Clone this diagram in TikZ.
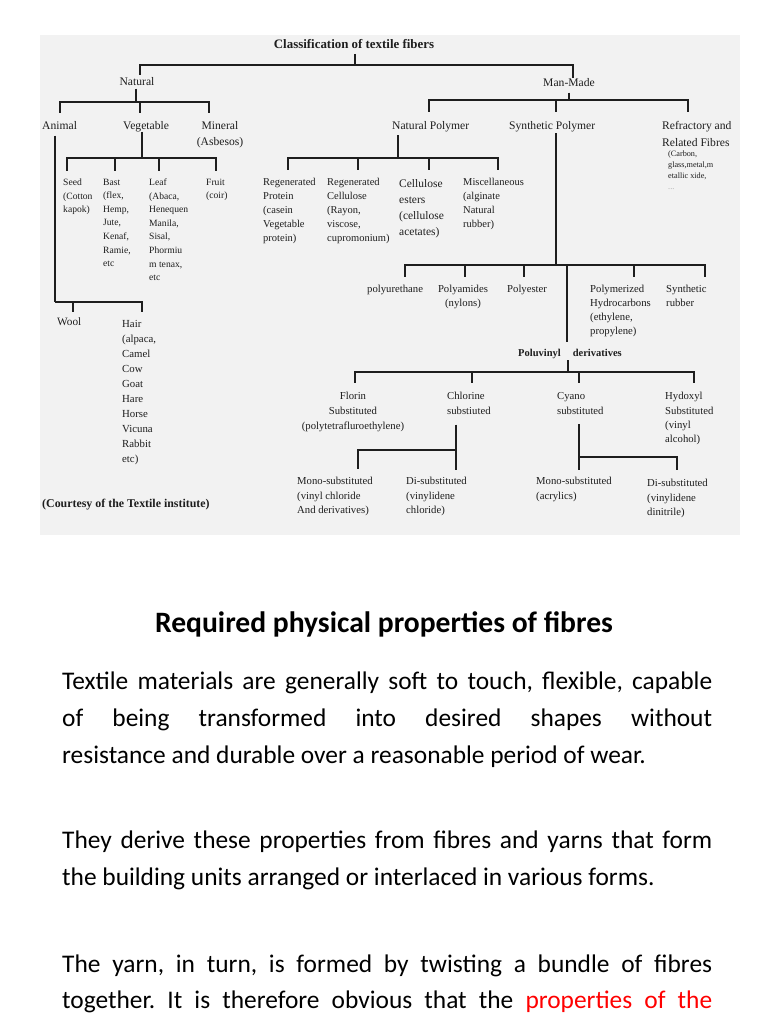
\documentclass[tikz,border=0pt]{standalone}
\usepackage{fontspec}
\setmainfont{Liberation Serif}
\newfontfamily\bodyfont{Carlito}
\newcommand\myfs[2]{\fontsize{#1}{#2}\selectfont}
\definecolor{diagbg}{RGB}{242,242,242}
\definecolor{ink}{RGB}{30,30,30}
\frenchspacing
\tikzset{
  tree/.style={draw=ink, line width=1.7pt},
  lbl/.style={inner sep=0pt, text=ink, font=\myfs{11.6}{16}},
  colnw/.style={inner sep=0pt, anchor=north west, align=left, text=ink},
  vc/.style={colnw, font=\myfs{9.6}{13.6}},
  npc/.style={colnw, font=\myfs{10.5}{14}},
  spc/.style={colnw, font=\myfs{10.7}{14}},
  pvc/.style={colnw, font=\myfs{10.7}{15}},
  msc/.style={colnw, font=\myfs{10.7}{14.5}},
  bl/.style={anchor=base west, inner sep=0pt, font=\bodyfont\myfs{25.4}{37}}
}
\begin{document}
\begin{tikzpicture}[x=1pt,y=-1pt]
\useasboundingbox (0,0) rectangle (768,1024);
\fill[white] (0,0) rectangle (768,1024);
\fill[diagbg] (40,35) rectangle (740,535);

% ---- level 0/1
\node[anchor=north, inner sep=0pt, text=ink, font=\bfseries\myfs{12.9}{15}] (title) at (354,39.5) {Classification of textile fibers};
\node[lbl, anchor=north] (natural) at (137,77) {Natural};
\node[lbl, anchor=north] (manmade) at (569,78) {Man-Made};

% ---- level 2
\node[lbl, anchor=north west] (animal) at (42,121) {Animal};
\node[lbl, anchor=north west] (vegetable) at (123,121) {Vegetable};
\node[lbl, anchor=north, align=center] (mineral) at (220,121) {Mineral\\(Asbesos)};
\node[lbl, anchor=north west] (natpoly) at (392,121) {Natural Polymer};
\node[lbl, anchor=north west] (synpoly) at (509,121) {Synthetic Polymer};
\node[lbl, anchor=north west, align=left, font=\myfs{11.6}{17}] (refrac) at (662,121) {Refractory and\\Related Fibres};
\node[colnw, font=\myfs{8.2}{11}] (refdet) at (668,151) {(Carbon,\\glass,metal,m\\etallic xide,\\\textcolor{black!35}{...}};

% ---- vegetable children
\node[vc] (seed) at (63,178.6) {Seed\\(Cotton\\kapok)};
\node[vc] (bast) at (103,178.6) {Bast\\(flex,\\Hemp,\\Jute,\\Kenaf,\\Ramie,\\etc};
\node[vc] (leaf) at (149,178.6) {Leaf\\(Abaca,\\Henequen\\Manila,\\Sisal,\\Phormiu\\m tenax,\\etc};
\node[vc] (fruit) at (206,178.6) {Fruit\\(coir)};

% ---- natural polymer children
\node[npc] (regprot) at (263,178.3) {Regenerated\\Protein\\(casein\\Vegetable\\protein)};
\node[npc] (regcell) at (327,178.3) {Regenerated\\Cellulose\\(Rayon,\\viscose,\\cupromonium)};
\node[colnw, font=\myfs{11.5}{16}] (celest) at (399,179) {Cellulose\\esters\\(cellulose\\acetates)};
\node[npc] (misc) at (463,178.3) {Miscellaneous\\(alginate\\Natural\\rubber)};

% ---- animal children
\node[lbl, anchor=north west, font=\myfs{11.25}{14}] (wool) at (57,317) {Wool};
\node[colnw, font=\myfs{10.8}{15}] (hair) at (122,320.2) {Hair\\(alpaca,\\Camel\\Cow\\Goat\\Hare\\Horse\\Vicuna\\Rabbit\\etc)};

% ---- synthetic polymer children
\node[spc] (polyur) at (367,285.3) {polyurethane};
\node[spc, anchor=north, align=center] (polyam) at (463,285.3) {Polyamides\\(nylons)};
\node[spc] (polyest) at (507,285.3) {Polyester};
\node[spc] (polymer) at (590,285.3) {Polymerized\\Hydrocarbons\\(ethylene,\\propylene)};
\node[spc] (synrub) at (666,285.3) {Synthetic\\rubber};
\node[anchor=north, inner sep=0pt, text=ink, font=\bfseries\myfs{10.5}{14}] (poluvinyl) at (570,349.3) {Poluvinyl\hspace{12pt}derivatives};

% ---- polyvinyl children
\node[pvc, anchor=north, align=center] (florin) at (353,392.3) {Florin\\Substituted\\(polytetrafluroethylene)};
\node[pvc] (chlorine) at (447,392.3) {Chlorine\\substiuted};
\node[pvc] (cyano) at (557,392.3) {Cyano\\substituted};
\node[colnw, font=\myfs{10.7}{14.3}] (hydoxyl) at (665,392.3) {Hydoxyl\\Substituted\\(vinyl\\alcohol)};

\node[msc] (mono1) at (297,477) {Mono-substituted\\(vinyl chloride\\And derivatives)};
\node[msc] (di1) at (406,477) {Di-substituted\\(vinylidene\\chloride)};
\node[msc] (mono2) at (536,477) {Mono-substituted\\(acrylics)};
\node[msc] (di2) at (647,479) {Di-substituted\\(vinylidene\\dinitrile)};

\node[anchor=west, inner sep=0pt, text=ink, font=\bfseries\myfs{11.9}{14}] (courtesy) at (42,505) {(Courtesy of the Textile institute)};

% ---- connectors
\coordinate (rb) at (355,65);
\draw[tree, shorten <=4.7pt] ([xshift=1pt]title.south) -- (rb);
\draw[tree, shorten >=2pt] (rb) -| ([xshift=3pt]natural.north);
\draw[tree] (rb) -| ([xshift=4pt]manmade.north);

\coordinate (nb) at (136,102);
\draw[tree, shorten <=3pt] ([xshift=-1pt]natural.south) -- (nb);
\draw[tree, shorten >=8pt] (nb) -| ([xshift=18pt]animal.north west);
\draw[tree, shorten >=8pt] (nb) -| ([xshift=17pt]vegetable.north west);
\draw[tree, shorten >=8pt] (nb) -| ([xshift=-11pt]mineral.north);

\coordinate (mb) at (569,100);
\draw[tree, shorten <=6pt] (manmade.south) -- (mb);
\draw[tree, shorten >=9pt] (mb) -| ([xshift=37pt]natpoly.north west);
\draw[tree, shorten >=9pt] (mb) -| ([xshift=47pt]synpoly.north west);
\draw[tree, shorten >=9pt] (mb) -| ([xshift=26pt]refrac.north west);

\coordinate (vb) at (142,158);
\draw[tree] ([xshift=19pt]vegetable.south west) -- (vb);
\draw[tree, shorten >=7.6pt] (vb) -| ([xshift=4pt]seed.north west);
\draw[tree, shorten >=7.6pt] (vb) -| ([xshift=12pt]bast.north west);
\draw[tree, shorten >=7.6pt] (vb) -| ([xshift=10pt]leaf.north west);
\draw[tree, shorten >=7.6pt] (vb) -| ([xshift=10pt]fruit.north west);

\coordinate (pb) at (398,158);
\draw[tree, shorten <=3.5pt] ([xshift=6pt]natpoly.south west) -- (pb);
\draw[tree, shorten >=8.3pt] (pb) -| ([xshift=25pt]regprot.north west);
\draw[tree, shorten >=8.3pt] (pb) -| ([xshift=31pt]regcell.north west);
\draw[tree, shorten >=9pt] (pb) -| ([xshift=30pt]celest.north west);
\draw[tree, shorten >=8.3pt] (pb) -| ([xshift=35pt]misc.north west);

\coordinate (ab) at (55,302);
\draw[tree, shorten <=6pt] ([xshift=13pt]animal.south west) -- (ab);
\draw[tree, shorten >=5pt] (ab) -| ([xshift=16pt]wool.north west);
\draw[tree, shorten >=8pt] (ab) -| ([xshift=20pt]hair.north west);

\coordinate (sb) at (556,265);
\draw[tree, shorten <=1.5pt] ([xshift=47pt]synpoly.south west) -- (sb);
\draw[tree, shorten >=8.3pt] (sb) -| ([xshift=38pt]polyur.north west);
\draw[tree, shorten >=8.3pt] (sb) -| ([xshift=2pt]polyam.north);
\draw[tree, shorten >=8.3pt] (sb) -| ([xshift=17pt]polyest.north west);
\draw[tree, shorten >=8.3pt] (sb) -| ([xshift=44pt]polymer.north west);
\draw[tree, shorten >=8.3pt] (sb) -| ([xshift=39pt]synrub.north west);
\draw[tree, shorten >=7pt] (sb) -| ([xshift=-3pt]poluvinyl.north);

\coordinate (qb) at (568,372);
\draw[tree, shorten <=1pt] ([xshift=-2pt]poluvinyl.south) -- (qb);
\draw[tree, shorten >=9.3pt] (qb) -| ([xshift=2pt]florin.north);
\draw[tree, shorten >=9.3pt] (qb) -| ([xshift=25pt]chlorine.north west);
\draw[tree, shorten >=9.3pt] (qb) -| ([xshift=22pt]cyano.north west);
\draw[tree, shorten >=9.3pt] (qb) -| ([xshift=29pt]hydoxyl.north west);

\coordinate (cb) at (456,450);
\draw[tree, shorten <=9.5pt, shorten >=7pt] ([xshift=9pt]chlorine.south west) -- ([xshift=50pt]di1.north west);
\draw[tree, shorten >=8pt] (cb) -| ([xshift=61pt]mono1.north west);

\coordinate (yb) at (579,457);
\draw[tree, shorten <=9.5pt, shorten >=7pt] ([xshift=22pt]cyano.south west) -- ([xshift=43pt]mono2.north west);
\draw[tree, shorten >=9pt] (yb) -| ([xshift=30pt]di2.north west);

% ---- body text
\node[anchor=base, inner sep=0pt, font=\bodyfont\bfseries\myfs{29.6}{32}] (heading) at (384,632) {Required physical properties of fibres};
\node[bl] (l1) at (62,689) {\makebox[650pt][s]{Textile materials are generally soft to touch, flexible, capable}};
\node[bl] (l2) at (62,726) {\makebox[650pt][s]{of being transformed into desired shapes without}};
\node[bl] (l3) at (62,763) {resistance and durable over a reasonable period of wear.};
\node[bl] (l4) at (62,848) {\makebox[650pt][s]{They derive these properties from fibres and yarns that form}};
\node[bl] (l5) at (62,885) {the building units arranged or interlaced in various forms.};
\node[bl] (l6) at (62,972) {\makebox[650pt][s]{The yarn, in turn, is formed by twisting a bundle of fibres}};
\node[bl] (l7) at (62,1008) {\makebox[650pt][s]{together. It is therefore obvious that the \textcolor{red}{properties of the}}};
\end{tikzpicture}
\end{document}
